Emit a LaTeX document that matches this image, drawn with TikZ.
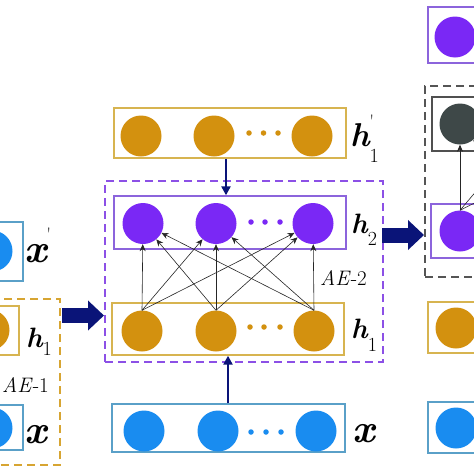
\documentclass[tikz,border=0pt]{standalone}
\usetikzlibrary{arrows.meta}
\definecolor{goldc}{RGB}{211,145,15}
\definecolor{goldb}{RGB}{215,180,80}
\definecolor{goldd}{RGB}{215,165,50}
\definecolor{purc}{RGB}{122,40,245}
\definecolor{purb}{RGB}{140,100,220}
\definecolor{purd}{RGB}{140,80,230}
\definecolor{bluc}{RGB}{25,140,240}
\definecolor{blub}{RGB}{90,160,200}
\definecolor{darkc}{RGB}{62,72,72}
\definecolor{darkb}{RGB}{80,80,80}
\definecolor{grayd}{RGB}{85,85,85}
\definecolor{navy}{RGB}{10,20,120}
\newcommand{\hfnt}[1]{{\fontsize{#1}{#1}\selectfont\bfseries\itshape h}}
\newcommand{\xfnt}{{\fontsize{40}{40}\selectfont\bfseries\itshape x}}
\newcommand{\subf}[2]{\raisebox{-#1pt}{\fontsize{20}{20}\selectfont #2}}
\newcommand{\primef}[1]{\rlap{\raisebox{#1pt}{\fontsize{18}{18}\selectfont\textquotesingle}}}
\begin{document}
\begin{tikzpicture}[x=1pt,y=-1pt,
  layer/.style={draw, line width=1.4pt, rectangle, inner sep=0pt, minimum width=232pt},
  unit/.style={circle, inner sep=0pt, minimum size=41pt},
  dotu/.style={circle, inner sep=0pt, minimum size=5.5pt},
  grp/.style={draw, line width=2pt, dash pattern=on 8pt off 5pt, rectangle, inner sep=0pt},
  link/.style={line width=0.6pt, draw=black!85, -{Stealth[length=7pt,width=6pt]}},
  feed/.style={line width=2.5pt, draw=navy, -{Triangle[length=9pt,width=9pt]}},
  bigarr/.style={line width=15pt, draw=navy, -{Triangle[length=16pt,width=29pt]}},
  lbl/.style={anchor=base west, inner sep=0pt}]
\useasboundingbox (0,0) rectangle (474,474);
\fill[white] (0,0) rectangle (474,474);
\clip (0,0) rectangle (474,474);

% ---------- left column (AE-1) ----------
\node[grp, draw=goldd, minimum width=280pt, minimum height=166pt] (ae1) at (-80,382) {};
\node[layer, draw=blub, minimum height=59pt] (lxpbox) at (-93,251.5) {};
\node[unit, fill=bluc] (lxp3) at (-8,251) {};
\node[layer, draw=goldb, minimum height=49pt] (lhbox) at (-97,330.5) {};
\node[unit, fill=goldc] (lh3) at (-11,330) {};
\node[layer, draw=blub, minimum height=45pt] (lxbox) at (-93,427.5) {};
\node[unit, fill=bluc] (lx3) at (-8,428) {};
\node[lbl] (lxplab) at (24,262) {\xfnt\primef{22}};
\node[lbl] (lhlab) at (26,347) {\hfnt{28}\subf{8}{1}};
\node[lbl] (lxlab) at (24,443) {\xfnt};
\node[lbl] (ae1lab) at (2,392) {\fontsize{21}{21}\selectfont\textit{AE}-1};

% ---------- middle column (AE-2) ----------
\node[grp, draw=purd, minimum width=278pt, minimum height=181pt] (ae2) at (244,271.5) {};

\node[layer, draw=goldb, minimum height=50pt] (hpbox) at (230,133) {};
\node[unit, fill=goldc] (hp1) at (141,136) {};
\node[unit, fill=goldc] (hp2) at (214,136) {};
\node[unit, fill=goldc] (hp3) at (312,136) {};
\node[dotu, fill=goldc] (hpd1) at (249,133) {};
\node[dotu, fill=goldc] (hpd2) at (263.5,133) {};
\node[dotu, fill=goldc] (hpd3) at (278,133) {};

\node[layer, draw=purb, minimum height=53pt] (h2box) at (230,222.5) {};
\node[unit, fill=purc] (h21) at (143,223.5) {};
\node[unit, fill=purc] (h22) at (216,223.5) {};
\node[unit, fill=purc] (h23) at (313,223.5) {};
\node[dotu, fill=purc] (h2d1) at (251,222) {};
\node[dotu, fill=purc] (h2d2) at (265,222) {};
\node[dotu, fill=purc] (h2d3) at (280,222) {};

\node[layer, draw=goldb, minimum height=52pt] (h1box) at (228,329) {};
\node[unit, fill=goldc] (h11) at (142,331) {};
\node[unit, fill=goldc] (h12) at (216,331) {};
\node[unit, fill=goldc] (h13) at (314,331) {};
\node[dotu, fill=goldc] (h1d1) at (250,327) {};
\node[dotu, fill=goldc] (h1d2) at (264,327) {};
\node[dotu, fill=goldc] (h1d3) at (280,327) {};

\node[layer, draw=blub, minimum width=233pt, minimum height=48pt] (xbox) at (228.5,428) {};
\node[unit, fill=bluc] (x1) at (144,431) {};
\node[unit, fill=bluc] (x2) at (218,431) {};
\node[unit, fill=bluc] (x3) at (316,431) {};
\node[dotu, fill=bluc] (xd1) at (251,432) {};
\node[dotu, fill=bluc] (xd2) at (266,432) {};
\node[dotu, fill=bluc] (xd3) at (281,432) {};

\foreach \s in {1,2,3}{
  \foreach \t in {1,2,3}{
    \draw[link] (h1\s.north) -- (h2\t);
  }
}
\draw[feed] (hpbox.south -| 226,0) -- (h2box.north -| 226,0);
\draw[feed] (xbox.north -| 228,0) -- (h1box.south -| 228,0);

\node[lbl] (hplab) at (350,146) {\hfnt{33}\primef{19}\subf{16}{1}};
\node[lbl] (h2lab) at (351,233) {\hfnt{28}\subf{12}{2}};
\node[lbl] (h1lab) at (351,338) {\hfnt{28}\subf{13}{1}};
\node[lbl] (xlab) at (352,442) {\xfnt};
\node[lbl] (ae2lab) at (320,285) {\fontsize{21}{21}\selectfont\textit{AE}-2};

% ---------- right column (AE-3) ----------
\node[layer, draw=purb, minimum height=56pt] (rtop) at (544,35) {};
\node[unit, fill=purc] (rt1) at (455,37) {};
\node[grp, draw=grayd, minimum width=275pt, minimum height=191pt] (ae3) at (562.5,181.5) {};
\node[layer, draw=darkb, minimum height=54pt] (rdbox) at (548,124) {};
\node[unit, fill=darkc] (rd1) at (460,124) {};
\node[layer, draw=purb, minimum height=54pt] (rpbox) at (547,231) {};
\node[unit, fill=purc] (rp1) at (460,231) {};
\node[layer, draw=goldb, minimum height=51pt] (rgbox) at (544,327.5) {};
\node[unit, fill=goldc] (rg1) at (456,328) {};
\node[layer, draw=blub, minimum height=51pt] (rbbox) at (544,427.5) {};
\node[unit, fill=bluc] (rb1) at (456,428) {};
\coordinate (rd2) at (533,124);
\coordinate (rd3) at (631,124);
\coordinate (rp2) at (533,211);
\coordinate (rp3) at (631,211);
\draw[link] (rp1.north) -- (rd1);
\draw[link, -] (rp1.north) -- (rd2);
\draw[link, -] (rp1.north) -- (rd3);
\draw[link] (rp2) -- (rd1);
\draw[link] (rp3) -- (rd1);

% ---------- big arrows ----------
\coordinate (a1s) at (62,315.5);
\draw[bigarr] (a1s) -- (ae2.west |- a1s);
\coordinate (a2s) at (382,235);
\draw[bigarr] (a2s) -- (ae3.west |- a2s);
\end{tikzpicture}
\end{document}
